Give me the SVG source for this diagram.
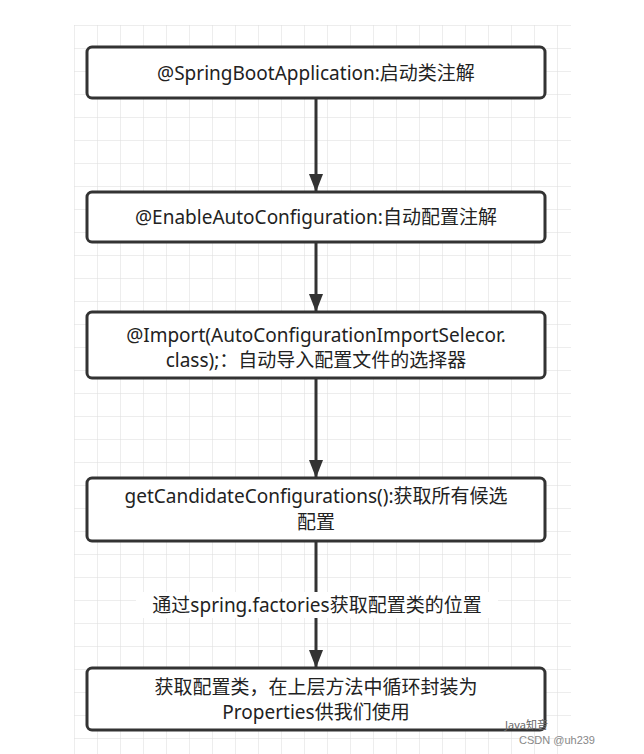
<svg xmlns="http://www.w3.org/2000/svg" width="644" height="754" viewBox="0 0 644 754">
<defs>
<pattern id="g" x="74" y="25" width="23" height="23" patternUnits="userSpaceOnUse"><path d="M0 0H23M0 0V23" fill="none" stroke="#dcdcdc" stroke-width="1"/></pattern>
<marker id="a" markerWidth="18" markerHeight="14" refX="17" refY="7" orient="auto" markerUnits="userSpaceOnUse"><path d="M0 0L18 7L0 14Z" fill="#333"/></marker>
<style>
.b{fill:#fff;stroke:#333;stroke-width:3}
.t{font-family:"Noto Sans","Noto Sans CJK SC",sans-serif;font-size:19px;fill:#222;text-anchor:middle}
.c{stroke:#333;stroke-width:3;fill:none;marker-end:url(#a)}
</style>
</defs>
<rect width="644" height="754" fill="#fff"/>
<rect x="74" y="25" width="497" height="729" fill="url(#g)"/>
<g id="connectors">
<path class="c" d="M316 99V191"/>
<path class="c" d="M316 243V311"/>
<path class="c" d="M316 379V477"/>
<path class="c" d="M316 542V667"/>
<rect x="136" y="592" width="362" height="26" fill="#fff"/>
<text class="t" x="317" y="612">通过spring.factories获取配置类的位置</text>
</g>
<g id="n1"><rect class="b" x="87" y="47" width="458" height="51" rx="5"/><text class="t" x="316" y="80">@SpringBootApplication:启动类注解</text></g>
<g id="n2"><rect class="b" x="87" y="192" width="458" height="50" rx="5"/><text class="t" x="316" y="224">@EnableAutoConfiguration:自动配置注解</text></g>
<g id="n3"><rect class="b" x="87" y="312" width="458" height="66" rx="5"/><text class="t" x="316" y="342">@Import(AutoConfigurationImportSelecor.</text><text class="t" x="316" y="367">class);：自动导入配置文件的选择器</text></g>
<g id="n4"><rect class="b" x="87" y="478" width="458" height="63" rx="5"/><text class="t" x="316" y="503">getCandidateConfigurations():获取所有候选</text><text class="t" x="316" y="529">配置</text></g>
<g id="n5"><rect class="b" x="87" y="668" width="458" height="62" rx="5"/><text class="t" x="316" y="694">获取配置类，在上层方法中循环封装为</text><text class="t" x="316" y="719">Properties供我们使用</text></g>
<text x="505" y="729" font-family="Noto Sans,Noto Sans CJK SC,sans-serif" font-size="11" fill="#666">Java知音</text>
<text x="557" y="744" font-family="Liberation Sans,sans-serif" font-size="11" fill="#888" text-anchor="middle">CSDN @uh239</text>
</svg>
